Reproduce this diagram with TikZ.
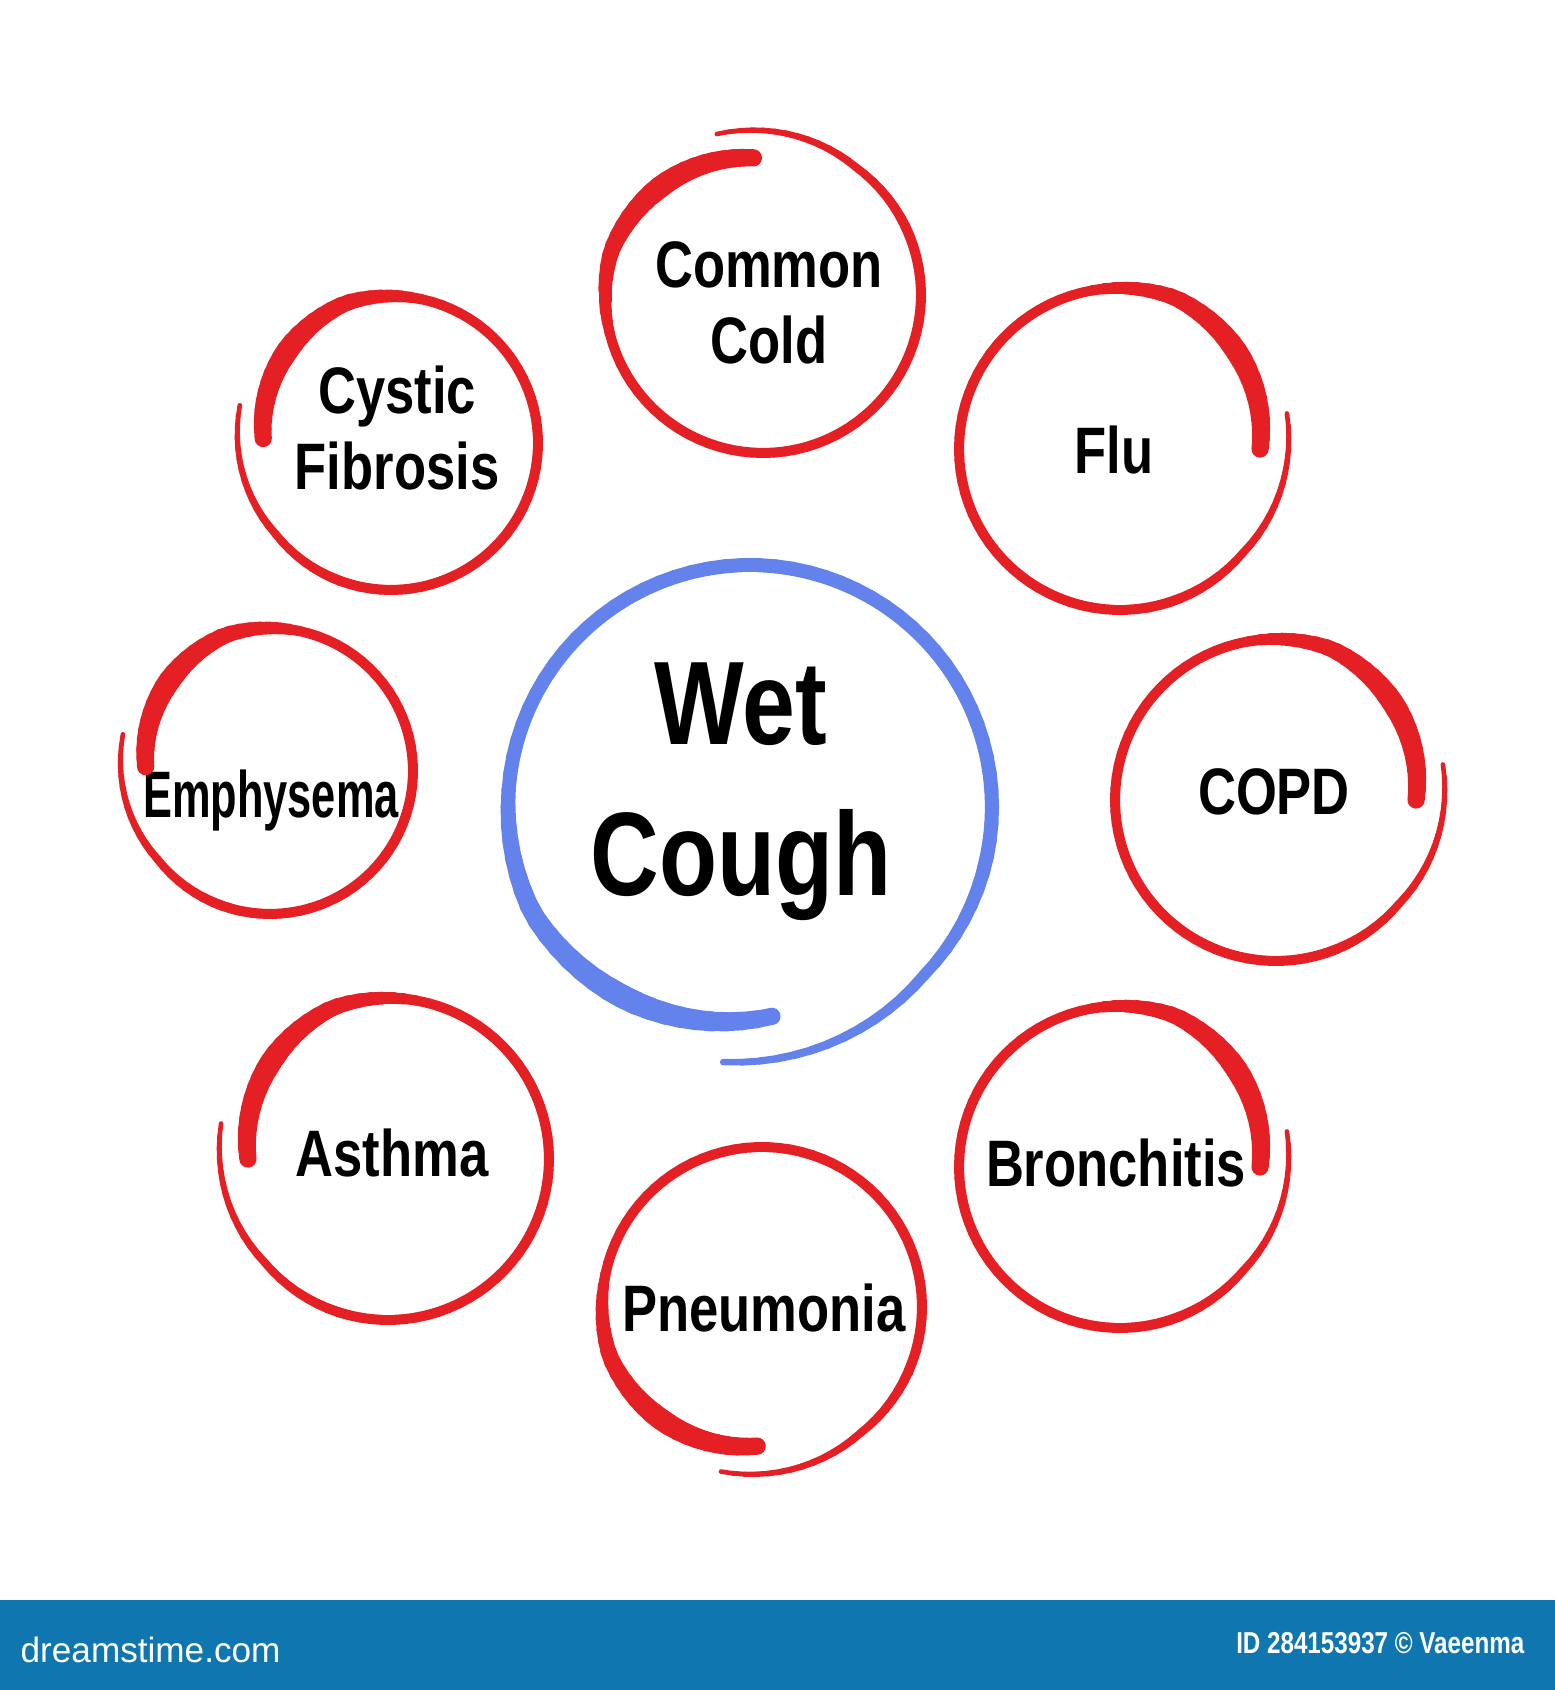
\documentclass[tikz,border=0pt]{standalone}
\usepackage{fontspec}
\setmainfont{Liberation Sans}
\newfontfamily\labelfont[FakeStretch=0.80]{Liberation Sans}
\newfontfamily\narrowfont[FakeStretch=0.66]{Liberation Sans}

\definecolor{ringred}{RGB}{228,32,36}
\definecolor{coughblue}{RGB}{100,130,235}
\definecolor{barblue}{RGB}{16,118,175}

\tikzset{
    declare function={
        ringrad(\x)=(\x<70)*(0.87+0.13*\x/70)+(\x>=70)*(\x<=320)+(\x>320)*(1+0.06*(\x-320)/52);
        ringwid(\x,\p)=(\x<40)*(\p-0.5+0.5*\x/40)+(\x>=40)*(\x<100)*(\p-(\p-1)*(\x-40)/60)
                   +(\x>=100)*(\x<290)+(\x>=290)*(1-0.55*(\x-290)/82);
    },
    disease/.style={
        align=center,
        inner sep=0,
        font=\labelfont\bfseries\fontsize{18.7}{21.5}\selectfont
    },
    centretext/.style={
        align=center,
        inner sep=0,
        font=\labelfont\bfseries\fontsize{33.8}{43}\selectfont
    },
    bartext/.style={
        inner sep=0,
        text=white
    }
}

% hand drawn ring: node, dx, dy, radius, start, direction, width (pt), peak, colour
\newcommand{\ring}[9]{%
    \foreach \k in {0,4,...,368}{
        \pgfmathsetmacro\xa{#2+#4*ringrad(\k)*cos(#5+#6*\k)}
        \pgfmathsetmacro\ya{#3+#4*ringrad(\k)*sin(#5+#6*\k)}
        \pgfmathsetmacro\xb{#2+#4*ringrad(\k+4)*cos(#5+#6*(\k+4))}
        \pgfmathsetmacro\yb{#3+#4*ringrad(\k+4)*sin(#5+#6*(\k+4))}
        \pgfmathsetmacro\lw{#7*ringwid(\k+2,#8)}
        \draw[#9, line width=\lw pt, line cap=round]
            ([shift={(\xa,\ya)}]#1.center) -- ([shift={(\xb,\yb)}]#1.center);
    }
}

\begin{document}
\begin{tikzpicture}[x=0.1mm, y=0.1mm]
    \fill[white] (0,0) rectangle (1555,1690);
    \useasboundingbox (0,0) rectangle (1555,1690);

    \node[centretext] (wet) at (741,898) {Wet\\Cough};

    \node[disease] (cold) at (769,1387) {Common\\Cold};
    \node[disease] (flu) at (1114,1240) {Flu};
    \node[disease] (copd) at (1274,898) {COPD};
    \node[disease] (bronch) at (1116,527) {Bronchitis};
    \node[disease] (pneu) at (764,382) {Pneumonia};
    \node[disease] (asthma) at (392,537) {Asthma};
    \node[disease, font=\narrowfont\bfseries\fontsize{18.7}{21.5}\selectfont] (emph) at (271,889) {Emphysema};
    \node[disease] (cystic) at (397,1262) {Cystic\\Fibrosis};

    \ring{wet}{9}{-15}{242}{276}{-1}{4.0}{1.7}{coughblue}
    \ring{cold}{-6}{8}{158}{94}{1}{2.85}{2.2}{ringred}
    \ring{flu}{6}{1}{161}{0}{1}{2.85}{2.2}{ringred}
    \ring{copd}{2}{-8}{161}{0}{1}{2.85}{2.2}{ringred}
    \ring{bronch}{4}{-4}{161}{0}{1}{2.85}{2.2}{ringred}
    \ring{pneu}{-2}{1}{160}{268}{-1}{2.85}{2.2}{ringred}
    \ring{asthma}{-4}{-6}{161}{180}{-1}{2.85}{2.2}{ringred}
    \ring{emph}{-1}{30}{143}{178}{-1}{2.85}{2.2}{ringred}
    \ring{cystic}{-6}{-15}{147}{178}{-1}{2.85}{2.2}{ringred}

    % bottom strip
    \fill[barblue] (0,0) rectangle (1555,90);
    \node[bartext, anchor=base west, font=\fontsize{10}{12}\selectfont] (site) at (20,28) {dreamstime.com};
    \node[bartext, anchor=base east, font=\labelfont\bfseries\fontsize{8.6}{10}\selectfont] (imgid) at (1525,36) {ID 284153937 © Vaeenma};
\end{tikzpicture}
\end{document}
